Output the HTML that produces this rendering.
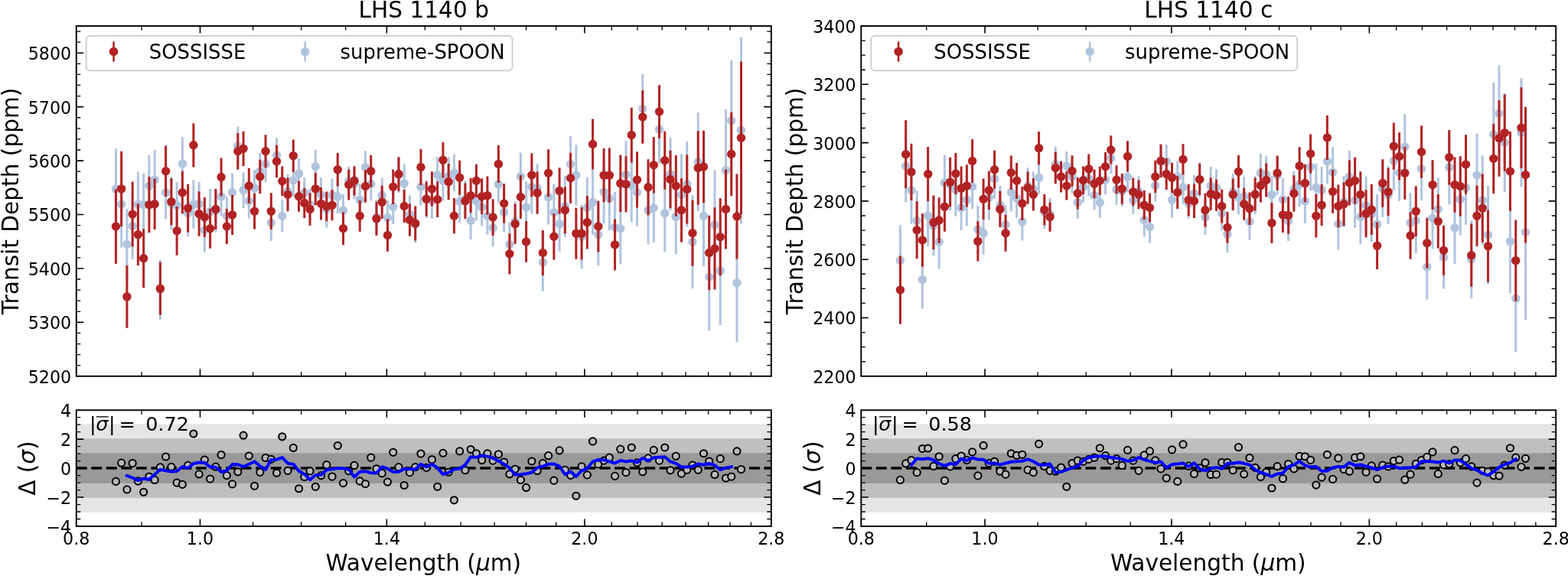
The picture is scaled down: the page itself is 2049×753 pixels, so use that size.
<!DOCTYPE html>
<html><head><meta charset="utf-8"><title>LHS 1140 b and c transmission spectra</title>
<style>html,body{margin:0;padding:0;background:#fff;overflow:hidden;}svg{display:block;}text{font-family:'DejaVu Sans', 'Liberation Sans', sans-serif;fill:#000;}</style>
</head><body>
<svg width="2049" height="753" viewBox="0 0 2049 753">
<rect width="2049" height="753" fill="#fff"/>
<rect x="99.75" y="554.38" width="908.05" height="115.45" fill="#e5e5e5"/>
<rect x="99.75" y="573.35" width="908.05" height="77.5" fill="#bfbfbf"/>
<rect x="99.75" y="592.33" width="908.05" height="39.55" fill="#999999"/>
<path d="M99.75 612.1H1007.8" stroke="#000" stroke-width="3.5" stroke-dasharray="13.9 5.64" stroke-dashoffset="0"/>
<g fill="#b9b9b9" stroke="#000" stroke-width="2.0"><circle cx="151.42" cy="629.38" r="4.6"/><circle cx="158.67" cy="605.22" r="4.6"/><circle cx="165.91" cy="639.92" r="4.6"/><circle cx="173.16" cy="605.51" r="4.6"/><circle cx="180.4" cy="628.94" r="4.6"/><circle cx="187.65" cy="643.29" r="4.6"/><circle cx="194.9" cy="623.08" r="4.6"/><circle cx="202.14" cy="627.47" r="4.6"/><circle cx="209.39" cy="610.93" r="4.6"/><circle cx="216.63" cy="597.02" r="4.6"/><circle cx="223.88" cy="610.34" r="4.6"/><circle cx="231.13" cy="631.13" r="4.6"/><circle cx="238.37" cy="633.33" r="4.6"/><circle cx="245.62" cy="608.44" r="4.6"/><circle cx="252.86" cy="567.01" r="4.6"/><circle cx="260.11" cy="619.86" r="4.6"/><circle cx="267.36" cy="601.12" r="4.6"/><circle cx="274.6" cy="626.01" r="4.6"/><circle cx="281.85" cy="610.2" r="4.6"/><circle cx="289.09" cy="594.53" r="4.6"/><circle cx="296.34" cy="621.62" r="4.6"/><circle cx="303.59" cy="632.89" r="4.6"/><circle cx="310.83" cy="616.79" r="4.6"/><circle cx="318.08" cy="569.2" r="4.6"/><circle cx="325.32" cy="596" r="4.6"/><circle cx="332.57" cy="635.23" r="4.6"/><circle cx="339.82" cy="617.37" r="4.6"/><circle cx="347.06" cy="598.48" r="4.6"/><circle cx="354.31" cy="600.39" r="4.6"/><circle cx="361.55" cy="618.25" r="4.6"/><circle cx="368.8" cy="570.81" r="4.6"/><circle cx="376.05" cy="615.32" r="4.6"/><circle cx="383.29" cy="585.45" r="4.6"/><circle cx="390.54" cy="638.75" r="4.6"/><circle cx="397.78" cy="623.52" r="4.6"/><circle cx="405.03" cy="615.76" r="4.6"/><circle cx="412.28" cy="636.26" r="4.6"/><circle cx="419.52" cy="621.62" r="4.6"/><circle cx="426.77" cy="607.71" r="4.6"/><circle cx="434.01" cy="623.08" r="4.6"/><circle cx="441.26" cy="582.53" r="4.6"/><circle cx="448.51" cy="631.57" r="4.6"/><circle cx="455.75" cy="615.76" r="4.6"/><circle cx="463" cy="608.44" r="4.6"/><circle cx="470.24" cy="628.94" r="4.6"/><circle cx="477.49" cy="632.6" r="4.6"/><circle cx="484.74" cy="598.19" r="4.6"/><circle cx="491.98" cy="612.83" r="4.6"/><circle cx="499.23" cy="618.69" r="4.6"/><circle cx="506.47" cy="630.11" r="4.6"/><circle cx="513.72" cy="591.31" r="4.6"/><circle cx="520.97" cy="610.64" r="4.6"/><circle cx="528.21" cy="634.5" r="4.6"/><circle cx="535.46" cy="617.66" r="4.6"/><circle cx="542.7" cy="610.64" r="4.6"/><circle cx="549.95" cy="593.07" r="4.6"/><circle cx="557.2" cy="611.37" r="4.6"/><circle cx="564.44" cy="600.83" r="4.6"/><circle cx="571.69" cy="636.26" r="4.6"/><circle cx="578.93" cy="592.34" r="4.6"/><circle cx="586.18" cy="617.23" r="4.6"/><circle cx="593.43" cy="653.83" r="4.6"/><circle cx="600.67" cy="589.85" r="4.6"/><circle cx="607.92" cy="614.74" r="4.6"/><circle cx="615.16" cy="587.5" r="4.6"/><circle cx="622.41" cy="592.77" r="4.6"/><circle cx="629.66" cy="601.56" r="4.6"/><circle cx="636.9" cy="592.77" r="4.6"/><circle cx="644.15" cy="602.14" r="4.6"/><circle cx="651.39" cy="593.8" r="4.6"/><circle cx="658.64" cy="604.05" r="4.6"/><circle cx="665.89" cy="619.86" r="4.6"/><circle cx="673.13" cy="613.27" r="4.6"/><circle cx="680.38" cy="627.47" r="4.6"/><circle cx="687.62" cy="637.43" r="4.6"/><circle cx="694.87" cy="603.02" r="4.6"/><circle cx="702.12" cy="615.47" r="4.6"/><circle cx="709.36" cy="605.51" r="4.6"/><circle cx="716.61" cy="595.7" r="4.6"/><circle cx="723.85" cy="628.21" r="4.6"/><circle cx="731.1" cy="588.97" r="4.6"/><circle cx="738.35" cy="614.3" r="4.6"/><circle cx="745.59" cy="621.33" r="4.6"/><circle cx="752.84" cy="648.27" r="4.6"/><circle cx="760.08" cy="609.9" r="4.6"/><circle cx="767.33" cy="620.89" r="4.6"/><circle cx="774.58" cy="576.96" r="4.6"/><circle cx="781.82" cy="606.98" r="4.6"/><circle cx="789.07" cy="602.14" r="4.6"/><circle cx="796.31" cy="598.19" r="4.6"/><circle cx="803.56" cy="622.35" r="4.6"/><circle cx="810.81" cy="587.21" r="4.6"/><circle cx="818.05" cy="617.66" r="4.6"/><circle cx="825.3" cy="585.01" r="4.6"/><circle cx="832.54" cy="604.78" r="4.6"/><circle cx="839.79" cy="616.79" r="4.6"/><circle cx="847.04" cy="598.92" r="4.6"/><circle cx="854.28" cy="588.38" r="4.6"/><circle cx="861.53" cy="602.14" r="4.6"/><circle cx="868.77" cy="585.01" r="4.6"/><circle cx="876.02" cy="614.74" r="4.6"/><circle cx="883.27" cy="596.29" r="4.6"/><circle cx="890.51" cy="619.13" r="4.6"/><circle cx="897.76" cy="614.3" r="4.6"/><circle cx="905" cy="608" r="4.6"/><circle cx="912.25" cy="614.3" r="4.6"/><circle cx="919.5" cy="592.77" r="4.6"/><circle cx="926.74" cy="603.02" r="4.6"/><circle cx="933.99" cy="620.45" r="4.6"/><circle cx="941.23" cy="599.66" r="4.6"/><circle cx="948.48" cy="624.99" r="4.6"/><circle cx="955.73" cy="623.08" r="4.6"/><circle cx="962.97" cy="589.85" r="4.6"/><circle cx="968.5" cy="613.57" r="4.6"/></g>
<polyline points="165.91,621.79 173.16,624.58 180.4,628.15 187.65,625.66 194.9,626.74 202.14,620.36 209.39,613.77 216.63,615.38 223.88,616.55 231.13,616.05 238.37,610.05 245.62,611.95 252.86,605.95 260.11,604.49 267.36,604.84 274.6,610.34 281.85,610.7 289.09,617.05 296.34,615.2 303.59,607.01 310.83,607.3 318.08,610.02 325.32,606.92 332.57,603.26 339.82,609.49 347.06,613.95 354.31,601.06 361.55,600.65 368.8,598.05 376.05,605.72 383.29,606.77 390.54,615.76 397.78,619.95 405.03,627.18 412.28,620.97 419.52,620.89 426.77,614.24 434.01,613.3 441.26,612.13 448.51,612.28 455.75,613.45 463,623.46 470.24,616.79 477.49,616.2 484.74,618.25 491.98,618.48 499.23,610.23 506.47,612.72 513.72,617.05 520.97,616.84 528.21,612.95 535.46,613.3 542.7,613.45 549.95,606.71 557.2,610.43 564.44,606.77 571.69,611.6 578.93,620.1 586.18,617.9 593.43,613.59 600.67,612.63 607.92,607.74 615.16,597.28 622.41,597.87 629.66,595.35 636.9,596.61 644.15,598.87 651.39,602.53 658.64,606.63 665.89,611.69 673.13,620.42 680.38,620.21 687.62,619.33 694.87,617.78 702.12,611.43 709.36,609.58 716.61,606.77 723.85,606.54 731.1,609.7 738.35,620.21 745.59,616.55 752.84,622.94 760.08,615.47 767.33,612.6 774.58,603.37 781.82,601.03 789.07,601.33 796.31,603.37 803.56,605.51 810.81,602.09 818.05,603.4 825.3,602.29 832.54,604.63 839.79,598.78 847.04,602.2 854.28,598.25 861.53,597.84 868.77,597.31 876.02,603.46 883.27,605.89 890.51,610.49 897.76,610.4 905,609.7 912.25,606.48 919.5,607.71 926.74,606.04 933.99,608.18 941.23,614.24 948.48,611.6 955.73,610.23" fill="none" stroke="#0000ff" stroke-width="4.0" stroke-linejoin="round" stroke-linecap="square"/>
<text y="563.1" font-size="25.5"><tspan x="116.9">|</tspan><tspan x="125.3" font-style="italic">σ</tspan><tspan x="141.9">|</tspan><tspan x="155.53">=</tspan><tspan x="190.14">0.72</tspan></text>
<path d="M125.8 544.85H141.8" stroke="#000" stroke-width="1.3"/>
<path d="M99.75 650.05h9.5M1007.8 650.05h-9.5M99.75 612.1h9.5M1007.8 612.1h-9.5M99.75 574.15h9.5M1007.8 574.15h-9.5" stroke="#000" stroke-width="1.6"/><path d="M99.75 678.51h5.5M1007.8 678.51h-5.5M99.75 669.02h5.5M1007.8 669.02h-5.5M99.75 659.54h5.5M1007.8 659.54h-5.5M99.75 640.56h5.5M1007.8 640.56h-5.5M99.75 631.08h5.5M1007.8 631.08h-5.5M99.75 621.59h5.5M1007.8 621.59h-5.5M99.75 602.61h5.5M1007.8 602.61h-5.5M99.75 593.12h5.5M1007.8 593.12h-5.5M99.75 583.64h5.5M1007.8 583.64h-5.5M99.75 564.66h5.5M1007.8 564.66h-5.5M99.75 555.18h5.5M1007.8 555.18h-5.5M99.75 545.69h5.5M1007.8 545.69h-5.5" stroke="#000" stroke-width="1.3"/>
<path d="M261.49 688v-9.5M261.49 536.2v9.5M505.38 688v-9.5M505.38 536.2v9.5M763.91 688v-9.5M763.91 536.2v9.5" stroke="#000" stroke-width="1.6"/><path d="M185.12 688v-5.5M185.12 536.2v5.5M330.58 688v-5.5M330.58 536.2v5.5M393.65 688v-5.5M393.65 536.2v5.5M451.66 688v-5.5M451.66 536.2v5.5M555.39 688v-5.5M555.39 536.2v5.5M602.17 688v-5.5M602.17 536.2v5.5M646.11 688v-5.5M646.11 536.2v5.5M687.54 688v-5.5M687.54 536.2v5.5M726.73 688v-5.5M726.73 536.2v5.5M799.28 688v-5.5M799.28 536.2v5.5M833 688v-5.5M833 536.2v5.5M865.22 688v-5.5M865.22 536.2v5.5M896.07 688v-5.5M896.07 536.2v5.5M925.66 688v-5.5M925.66 536.2v5.5M954.08 688v-5.5M954.08 536.2v5.5M981.44 688v-5.5M981.44 536.2v5.5" stroke="#000" stroke-width="1.3"/>
<rect x="99.75" y="536.2" width="908.05" height="151.8" fill="none" stroke="#000" stroke-width="1.9"/>
<text x="93.15" y="696.9" font-size="22.2" text-anchor="end">−4</text>
<text x="93.15" y="658.95" font-size="22.2" text-anchor="end">−2</text>
<text x="93.15" y="621" font-size="22.2" text-anchor="end">0</text>
<text x="93.15" y="583.05" font-size="22.2" text-anchor="end">2</text>
<text x="93.15" y="545.1" font-size="22.2" text-anchor="end">4</text>
<text x="99.75" y="711.6" font-size="22.2" text-anchor="middle">0.8</text>
<text x="261.49" y="711.6" font-size="22.2" text-anchor="middle">1.0</text>
<text x="505.38" y="711.6" font-size="22.2" text-anchor="middle">1.4</text>
<text x="763.91" y="711.6" font-size="22.2" text-anchor="middle">2.0</text>
<text x="1007.8" y="711.6" font-size="22.2" text-anchor="middle">2.8</text>
<text x="553.27" y="745.9" font-size="29.6" text-anchor="middle">Wavelength (<tspan font-style="italic">μ</tspan>m)</text>
<text transform="translate(46.35 612.1) rotate(-90)" font-size="29.6" text-anchor="middle">Δ (<tspan font-style="italic">σ</tspan>)</text>
<path d="M151.42 194.35V299.48M158.67 210.92V323.48M165.91 272.88V365.79M173.16 252V339.07M180.4 224.75V309.7M187.65 226.53V308.82M194.9 203.11V282.75M202.14 196.26V273.77M209.39 339.42V417.99M216.63 217.04V286.6M223.88 231.26V300.28M231.13 237.88V298.94M238.37 179.36V248.39M245.62 248.08V309.14M252.86 235.16V298.87M260.11 237.55V295.96M267.36 271.33V329.73M274.6 247.03V306.49M281.85 247.86V303.6M289.09 231.65V282.09M296.34 257.13V307.57M303.59 226.81V276.19M310.83 165.47V215.91M318.08 225.45V272.17M325.32 240.27V285.39M332.57 221.96V269.75M339.82 199.7V248.55M347.06 190.56V238.34M354.31 267.33V315.12M361.55 180.14V226.33M368.8 261.52V302.93M376.05 227.73V272.86M383.29 214.05V257.59M390.54 206.66V247.54M397.78 231.95V272.3M405.03 246.38V288.85M412.28 195.75V239.81M419.52 232.37V276.97M426.77 250.68V297.4M434.01 233.86V276.34M441.26 235.36V278.89M448.51 254.09V296.03M455.75 217.64V256.4M463 220.38V260.2M470.24 239.92V282.39M477.49 197.3V240.3M484.74 218.65V262.18M491.98 261.52V306.65M499.23 232.94V278.07M506.47 262.11V307.24M513.72 247.78V292.91M520.97 206.23V251.89M528.21 214.15V265.12M535.46 255.79V304.64M542.7 269.82V317.6M549.95 219.89V268.74M557.2 235.54V284.91M564.44 239.23V285.95M571.69 205.22V251.94M578.93 209.65V262.74M586.18 204.95V255.38M593.43 201.48V250.33M600.67 235.95V291.16M607.92 236.28V284.07M615.16 263.67V313.05M622.41 237.58V288.02M629.66 246.47V295.32M636.9 257.82V306.67M644.15 273.43V322.28M651.39 216.23V265.6M658.64 251.65V303.15M665.89 290.3V348.7M673.13 262.99V316.08M680.38 199.43V262.08M687.62 237.03V304.99M694.87 209.3V279.38M702.12 214.28V277.99M709.36 304.83V380.75M716.61 221.76V293.44M723.85 240.52V314.85M731.1 256.96V328.64M738.35 229.86V309.5M745.59 177.82V251.62M752.84 189.21V268.85M760.08 267.48V351.37M767.33 231.76V311.4M774.58 221.83V306.78M781.82 266.35V347.05M789.07 208.72V292.61M796.31 217.62V300.98M803.56 250.86V343.77M810.81 252.61V345.52M818.05 184.37V271.97M825.3 193.9V290.53M832.54 207.09V295.76M839.79 96.82V187.07M847.04 230.11V319.31M854.28 226.02V317.34M861.53 124.06V214.32M868.77 229.16V328.98M876.02 179.81V275.37M883.27 234.26V332.48M890.51 201.58V307.76M897.76 185.03V296.52M905 255.2V377.31M912.25 147.18V276.2M919.5 216.38V348.05M926.74 292V432.17M933.99 222.37V365.72M941.23 283.19V424.94M948.48 142.92V302.2M955.73 78.88V236.57M962.97 292.3V447.34M968.5 48.58V291.75" stroke="#b0c4de" stroke-width="3.0"/>
<g fill="#b0c4de"><circle cx="151.42" cy="246.91" r="5.7"/><circle cx="158.67" cy="267.2" r="5.7"/><circle cx="165.91" cy="319.34" r="5.7"/><circle cx="173.16" cy="295.54" r="5.7"/><circle cx="180.4" cy="267.22" r="5.7"/><circle cx="187.65" cy="267.67" r="5.7"/><circle cx="194.9" cy="242.93" r="5.7"/><circle cx="202.14" cy="235.02" r="5.7"/><circle cx="209.39" cy="378.71" r="5.7"/><circle cx="216.63" cy="251.82" r="5.7"/><circle cx="223.88" cy="265.77" r="5.7"/><circle cx="231.13" cy="268.41" r="5.7"/><circle cx="238.37" cy="213.88" r="5.7"/><circle cx="245.62" cy="278.61" r="5.7"/><circle cx="252.86" cy="267.01" r="5.7"/><circle cx="260.11" cy="266.75" r="5.7"/><circle cx="267.36" cy="300.53" r="5.7"/><circle cx="274.6" cy="276.76" r="5.7"/><circle cx="281.85" cy="275.73" r="5.7"/><circle cx="289.09" cy="256.87" r="5.7"/><circle cx="296.34" cy="282.35" r="5.7"/><circle cx="303.59" cy="251.5" r="5.7"/><circle cx="310.83" cy="190.69" r="5.7"/><circle cx="318.08" cy="248.81" r="5.7"/><circle cx="325.32" cy="262.83" r="5.7"/><circle cx="332.57" cy="245.85" r="5.7"/><circle cx="339.82" cy="224.13" r="5.7"/><circle cx="347.06" cy="214.45" r="5.7"/><circle cx="354.31" cy="291.22" r="5.7"/><circle cx="361.55" cy="203.24" r="5.7"/><circle cx="368.8" cy="282.23" r="5.7"/><circle cx="376.05" cy="250.29" r="5.7"/><circle cx="383.29" cy="235.82" r="5.7"/><circle cx="390.54" cy="227.1" r="5.7"/><circle cx="397.78" cy="252.13" r="5.7"/><circle cx="405.03" cy="267.61" r="5.7"/><circle cx="412.28" cy="217.78" r="5.7"/><circle cx="419.52" cy="254.67" r="5.7"/><circle cx="426.77" cy="274.04" r="5.7"/><circle cx="434.01" cy="255.1" r="5.7"/><circle cx="441.26" cy="257.13" r="5.7"/><circle cx="448.51" cy="275.06" r="5.7"/><circle cx="455.75" cy="237.02" r="5.7"/><circle cx="463" cy="240.29" r="5.7"/><circle cx="470.24" cy="261.15" r="5.7"/><circle cx="477.49" cy="218.8" r="5.7"/><circle cx="484.74" cy="240.41" r="5.7"/><circle cx="491.98" cy="284.09" r="5.7"/><circle cx="499.23" cy="255.5" r="5.7"/><circle cx="506.47" cy="284.68" r="5.7"/><circle cx="513.72" cy="270.35" r="5.7"/><circle cx="520.97" cy="229.06" r="5.7"/><circle cx="528.21" cy="239.63" r="5.7"/><circle cx="535.46" cy="280.21" r="5.7"/><circle cx="542.7" cy="293.71" r="5.7"/><circle cx="549.95" cy="244.32" r="5.7"/><circle cx="557.2" cy="260.22" r="5.7"/><circle cx="564.44" cy="262.59" r="5.7"/><circle cx="571.69" cy="228.58" r="5.7"/><circle cx="578.93" cy="236.2" r="5.7"/><circle cx="586.18" cy="230.16" r="5.7"/><circle cx="593.43" cy="225.91" r="5.7"/><circle cx="600.67" cy="263.56" r="5.7"/><circle cx="607.92" cy="260.18" r="5.7"/><circle cx="615.16" cy="288.36" r="5.7"/><circle cx="622.41" cy="262.8" r="5.7"/><circle cx="629.66" cy="270.9" r="5.7"/><circle cx="636.9" cy="282.24" r="5.7"/><circle cx="644.15" cy="297.85" r="5.7"/><circle cx="651.39" cy="240.92" r="5.7"/><circle cx="658.64" cy="277.4" r="5.7"/><circle cx="665.89" cy="319.5" r="5.7"/><circle cx="673.13" cy="289.54" r="5.7"/><circle cx="680.38" cy="230.75" r="5.7"/><circle cx="687.62" cy="271.01" r="5.7"/><circle cx="694.87" cy="244.34" r="5.7"/><circle cx="702.12" cy="246.14" r="5.7"/><circle cx="709.36" cy="342.79" r="5.7"/><circle cx="716.61" cy="257.6" r="5.7"/><circle cx="723.85" cy="277.68" r="5.7"/><circle cx="731.1" cy="292.8" r="5.7"/><circle cx="738.35" cy="269.68" r="5.7"/><circle cx="745.59" cy="214.72" r="5.7"/><circle cx="752.84" cy="229.03" r="5.7"/><circle cx="760.08" cy="309.42" r="5.7"/><circle cx="767.33" cy="271.58" r="5.7"/><circle cx="774.58" cy="264.3" r="5.7"/><circle cx="781.82" cy="306.7" r="5.7"/><circle cx="789.07" cy="250.67" r="5.7"/><circle cx="796.31" cy="259.3" r="5.7"/><circle cx="803.56" cy="297.31" r="5.7"/><circle cx="810.81" cy="299.06" r="5.7"/><circle cx="818.05" cy="228.17" r="5.7"/><circle cx="825.3" cy="242.21" r="5.7"/><circle cx="832.54" cy="251.43" r="5.7"/><circle cx="839.79" cy="141.94" r="5.7"/><circle cx="847.04" cy="274.71" r="5.7"/><circle cx="854.28" cy="271.68" r="5.7"/><circle cx="861.53" cy="169.19" r="5.7"/><circle cx="868.77" cy="279.07" r="5.7"/><circle cx="876.02" cy="227.59" r="5.7"/><circle cx="883.27" cy="283.37" r="5.7"/><circle cx="890.51" cy="254.67" r="5.7"/><circle cx="897.76" cy="240.77" r="5.7"/><circle cx="905" cy="316.26" r="5.7"/><circle cx="912.25" cy="211.69" r="5.7"/><circle cx="919.5" cy="282.21" r="5.7"/><circle cx="926.74" cy="362.09" r="5.7"/><circle cx="933.99" cy="294.05" r="5.7"/><circle cx="941.23" cy="354.06" r="5.7"/><circle cx="948.48" cy="222.56" r="5.7"/><circle cx="955.73" cy="157.72" r="5.7"/><circle cx="962.97" cy="369.82" r="5.7"/><circle cx="968.5" cy="170.16" r="5.7"/></g>
<path d="M151.42 247.16V344.85M158.67 197.78V296M165.91 346.97V428.74M173.16 237.6V322.55M180.4 266.27V346.97M187.65 299.19V376.17M194.9 230.97V304.23M202.14 233.62V299.99M209.39 342.73V411.75M216.63 190.62V256.98M223.88 233.09V294.15M231.13 269.99V333.7M238.37 223.8V279.55M245.62 240.79V303.44M252.86 161.15V218.49M260.11 250.35V308.75M267.36 258.04V310.07M274.6 272.64V324.67M281.85 246.89V299.99M289.09 206.54V256.45M296.34 272.91V319.1M303.59 254.86V306.89M310.83 173.89V221.68M318.08 171.77V216.9M325.32 219.82V266.01M332.57 252.73V299.46M339.82 208.67V253.27M347.06 176.28V219.29M354.31 252.2V299.99M361.55 189.82V232.29M368.8 217.43V256.19M376.05 232.29V276.36M383.29 182.39V224.86M390.54 236.81V276.63M397.78 245.83V285.12M405.03 252.2V294.68M412.28 225.66V268.13M419.52 245.04V287.51M426.77 250.61V289.37M434.01 247.96V288.31M441.26 199.91V243.44M448.51 277.16V320.16M455.75 221.68V261.49M463 217.16V255.39M470.24 261.76V302.64M477.49 222.21V264.68M484.74 203.09V244.5M491.98 263.88V307.95M499.23 242.65V285.65M506.47 286.18V328.66M513.72 221.41V267.07M520.97 205.22V249.81M528.21 247.96V290.96M535.46 266.27V308.75M542.7 269.46V314.59M549.95 194.86V242.12M557.2 237.6V282.73M564.44 224.33V269.46M571.69 237.34V284.06M578.93 186.1V232.29M586.18 213.98V261.23M593.43 259.11V305.3M600.67 209.73V254.86M607.92 239.46V286.18M615.16 233.09V278.22M622.41 214.77V257.78M629.66 233.36V280.08M636.9 230.44V280.87M644.15 260.17V307.95M651.39 190.08V238.93M658.64 240.26V291.76M665.89 305.3V358.39M673.13 266.54V319.1M680.38 229.11V285.92M687.62 289.1V342.73M694.87 200.17V257.51M702.12 224.6V279.81M709.36 301.05V359.98M716.61 195.13V257.25M723.85 279.02V339.54M731.1 219.29V279.81M738.35 244.24V305.3M745.59 199.64V266.01M752.84 271.85V338.74M760.08 271.05V339.54M767.33 255.92V325.47M774.58 155.57V221.41M781.82 262.56V329.45M789.07 194.07V264.15M796.31 193.54V264.68M803.56 286.45V353.34M810.81 202.56V276.89M818.05 204.15V277.42M825.3 140.71V212.38M832.54 198.31V271.58M839.79 118.14V187.7M847.04 208.14V281.4M854.28 179.2V252.47M861.53 111.24V180.79M868.77 171.77V247.69M876.02 196.72V272.11M883.27 203.09V282.73M890.51 233.09V316.45M897.76 202.3V292.55M905 261.76V347.77M912.25 171.24V267.87M919.5 170.71V265.21M926.74 281.67V379.36M933.99 271.32V378.56M941.23 259.37V360.25M948.48 221.41V325.47M955.73 146.81V256.19M962.97 227.52V338.48M968.5 80.45V280.08" stroke="#b22222" stroke-width="3.0"/>
<g fill="#b22222"><circle cx="151.42" cy="296" r="5.7"/><circle cx="158.67" cy="246.89" r="5.7"/><circle cx="165.91" cy="387.86" r="5.7"/><circle cx="173.16" cy="280.08" r="5.7"/><circle cx="180.4" cy="306.62" r="5.7"/><circle cx="187.65" cy="337.68" r="5.7"/><circle cx="194.9" cy="267.6" r="5.7"/><circle cx="202.14" cy="266.8" r="5.7"/><circle cx="209.39" cy="377.24" r="5.7"/><circle cx="216.63" cy="223.8" r="5.7"/><circle cx="223.88" cy="263.62" r="5.7"/><circle cx="231.13" cy="301.84" r="5.7"/><circle cx="238.37" cy="251.67" r="5.7"/><circle cx="245.62" cy="272.11" r="5.7"/><circle cx="252.86" cy="189.82" r="5.7"/><circle cx="260.11" cy="279.55" r="5.7"/><circle cx="267.36" cy="284.06" r="5.7"/><circle cx="274.6" cy="298.66" r="5.7"/><circle cx="281.85" cy="273.44" r="5.7"/><circle cx="289.09" cy="231.5" r="5.7"/><circle cx="296.34" cy="296" r="5.7"/><circle cx="303.59" cy="280.87" r="5.7"/><circle cx="310.83" cy="197.78" r="5.7"/><circle cx="318.08" cy="194.33" r="5.7"/><circle cx="325.32" cy="242.91" r="5.7"/><circle cx="332.57" cy="276.1" r="5.7"/><circle cx="339.82" cy="230.97" r="5.7"/><circle cx="347.06" cy="197.78" r="5.7"/><circle cx="354.31" cy="276.1" r="5.7"/><circle cx="361.55" cy="211.06" r="5.7"/><circle cx="368.8" cy="236.81" r="5.7"/><circle cx="376.05" cy="254.33" r="5.7"/><circle cx="383.29" cy="203.62" r="5.7"/><circle cx="390.54" cy="256.72" r="5.7"/><circle cx="397.78" cy="265.48" r="5.7"/><circle cx="405.03" cy="273.44" r="5.7"/><circle cx="412.28" cy="246.89" r="5.7"/><circle cx="419.52" cy="266.27" r="5.7"/><circle cx="426.77" cy="269.99" r="5.7"/><circle cx="434.01" cy="268.13" r="5.7"/><circle cx="441.26" cy="221.68" r="5.7"/><circle cx="448.51" cy="298.66" r="5.7"/><circle cx="455.75" cy="241.58" r="5.7"/><circle cx="463" cy="236.28" r="5.7"/><circle cx="470.24" cy="282.2" r="5.7"/><circle cx="477.49" cy="243.44" r="5.7"/><circle cx="484.74" cy="223.8" r="5.7"/><circle cx="491.98" cy="285.92" r="5.7"/><circle cx="499.23" cy="264.15" r="5.7"/><circle cx="506.47" cy="307.42" r="5.7"/><circle cx="513.72" cy="244.24" r="5.7"/><circle cx="520.97" cy="227.52" r="5.7"/><circle cx="528.21" cy="269.46" r="5.7"/><circle cx="535.46" cy="287.51" r="5.7"/><circle cx="542.7" cy="292.02" r="5.7"/><circle cx="549.95" cy="218.49" r="5.7"/><circle cx="557.2" cy="260.17" r="5.7"/><circle cx="564.44" cy="246.89" r="5.7"/><circle cx="571.69" cy="260.7" r="5.7"/><circle cx="578.93" cy="209.2" r="5.7"/><circle cx="586.18" cy="237.6" r="5.7"/><circle cx="593.43" cy="282.2" r="5.7"/><circle cx="600.67" cy="232.29" r="5.7"/><circle cx="607.92" cy="262.82" r="5.7"/><circle cx="615.16" cy="255.65" r="5.7"/><circle cx="622.41" cy="236.28" r="5.7"/><circle cx="629.66" cy="256.72" r="5.7"/><circle cx="636.9" cy="255.65" r="5.7"/><circle cx="644.15" cy="284.06" r="5.7"/><circle cx="651.39" cy="214.51" r="5.7"/><circle cx="658.64" cy="266.01" r="5.7"/><circle cx="665.89" cy="331.84" r="5.7"/><circle cx="673.13" cy="292.82" r="5.7"/><circle cx="680.38" cy="257.51" r="5.7"/><circle cx="687.62" cy="315.91" r="5.7"/><circle cx="694.87" cy="228.84" r="5.7"/><circle cx="702.12" cy="252.2" r="5.7"/><circle cx="709.36" cy="330.51" r="5.7"/><circle cx="716.61" cy="226.19" r="5.7"/><circle cx="723.85" cy="309.28" r="5.7"/><circle cx="731.1" cy="249.55" r="5.7"/><circle cx="738.35" cy="274.77" r="5.7"/><circle cx="745.59" cy="232.82" r="5.7"/><circle cx="752.84" cy="305.3" r="5.7"/><circle cx="760.08" cy="305.3" r="5.7"/><circle cx="767.33" cy="290.7" r="5.7"/><circle cx="774.58" cy="188.49" r="5.7"/><circle cx="781.82" cy="296" r="5.7"/><circle cx="789.07" cy="229.11" r="5.7"/><circle cx="796.31" cy="229.11" r="5.7"/><circle cx="803.56" cy="319.9" r="5.7"/><circle cx="810.81" cy="239.73" r="5.7"/><circle cx="818.05" cy="240.79" r="5.7"/><circle cx="825.3" cy="176.55" r="5.7"/><circle cx="832.54" cy="234.95" r="5.7"/><circle cx="839.79" cy="152.92" r="5.7"/><circle cx="847.04" cy="244.77" r="5.7"/><circle cx="854.28" cy="215.83" r="5.7"/><circle cx="861.53" cy="146.02" r="5.7"/><circle cx="868.77" cy="209.73" r="5.7"/><circle cx="876.02" cy="234.42" r="5.7"/><circle cx="883.27" cy="242.91" r="5.7"/><circle cx="890.51" cy="274.77" r="5.7"/><circle cx="897.76" cy="247.43" r="5.7"/><circle cx="905" cy="304.77" r="5.7"/><circle cx="912.25" cy="219.55" r="5.7"/><circle cx="919.5" cy="217.96" r="5.7"/><circle cx="926.74" cy="330.51" r="5.7"/><circle cx="933.99" cy="324.94" r="5.7"/><circle cx="941.23" cy="309.81" r="5.7"/><circle cx="948.48" cy="273.44" r="5.7"/><circle cx="955.73" cy="201.5" r="5.7"/><circle cx="962.97" cy="283" r="5.7"/><circle cx="968.5" cy="180.26" r="5.7"/></g>
<path d="M99.75 421.37h9.5M1007.8 421.37h-9.5M99.75 350.94h9.5M1007.8 350.94h-9.5M99.75 280.51h9.5M1007.8 280.51h-9.5M99.75 210.08h9.5M1007.8 210.08h-9.5M99.75 139.65h9.5M1007.8 139.65h-9.5M99.75 69.22h9.5M1007.8 69.22h-9.5" stroke="#000" stroke-width="1.6"/><path d="M99.75 477.71h5.5M1007.8 477.71h-5.5M99.75 463.63h5.5M1007.8 463.63h-5.5M99.75 449.54h5.5M1007.8 449.54h-5.5M99.75 435.46h5.5M1007.8 435.46h-5.5M99.75 407.28h5.5M1007.8 407.28h-5.5M99.75 393.2h5.5M1007.8 393.2h-5.5M99.75 379.11h5.5M1007.8 379.11h-5.5M99.75 365.02h5.5M1007.8 365.02h-5.5M99.75 336.85h5.5M1007.8 336.85h-5.5M99.75 322.77h5.5M1007.8 322.77h-5.5M99.75 308.68h5.5M1007.8 308.68h-5.5M99.75 294.59h5.5M1007.8 294.59h-5.5M99.75 266.42h5.5M1007.8 266.42h-5.5M99.75 252.34h5.5M1007.8 252.34h-5.5M99.75 238.25h5.5M1007.8 238.25h-5.5M99.75 224.16h5.5M1007.8 224.16h-5.5M99.75 195.99h5.5M1007.8 195.99h-5.5M99.75 181.9h5.5M1007.8 181.9h-5.5M99.75 167.82h5.5M1007.8 167.82h-5.5M99.75 153.73h5.5M1007.8 153.73h-5.5M99.75 125.56h5.5M1007.8 125.56h-5.5M99.75 111.47h5.5M1007.8 111.47h-5.5M99.75 97.39h5.5M1007.8 97.39h-5.5M99.75 83.3h5.5M1007.8 83.3h-5.5M99.75 55.13h5.5M1007.8 55.13h-5.5M99.75 41.04h5.5M1007.8 41.04h-5.5" stroke="#000" stroke-width="1.3"/>
<path d="M261.49 491.8v-9.5M261.49 34v9.5M505.38 491.8v-9.5M505.38 34v9.5M763.91 491.8v-9.5M763.91 34v9.5" stroke="#000" stroke-width="1.6"/><path d="M185.12 491.8v-5.5M185.12 34v5.5M330.58 491.8v-5.5M330.58 34v5.5M393.65 491.8v-5.5M393.65 34v5.5M451.66 491.8v-5.5M451.66 34v5.5M555.39 491.8v-5.5M555.39 34v5.5M602.17 491.8v-5.5M602.17 34v5.5M646.11 491.8v-5.5M646.11 34v5.5M687.54 491.8v-5.5M687.54 34v5.5M726.73 491.8v-5.5M726.73 34v5.5M799.28 491.8v-5.5M799.28 34v5.5M833 491.8v-5.5M833 34v5.5M865.22 491.8v-5.5M865.22 34v5.5M896.07 491.8v-5.5M896.07 34v5.5M925.66 491.8v-5.5M925.66 34v5.5M954.08 491.8v-5.5M954.08 34v5.5M981.44 491.8v-5.5M981.44 34v5.5" stroke="#000" stroke-width="1.3"/>
<rect x="112.75" y="46.8" width="556.8" height="45.5" rx="5" fill="#fff" fill-opacity="0.8" stroke="#cccccc" stroke-width="1.8"/>
<path d="M148.55 54.3V80.6" stroke="#b22222" stroke-width="2.6"/><circle cx="148.55" cy="67.4" r="5.7" fill="#b22222"/>
<text x="194.75" y="76.7" font-size="25.9">SOSSISSE</text>
<path d="M398.65 54.3V80.6" stroke="#b0c4de" stroke-width="2.6"/><circle cx="398.65" cy="67.4" r="5.7" fill="#b0c4de"/>
<text x="444.55" y="76.7" font-size="25.9">supreme-SPOON</text>
<rect x="99.75" y="34" width="908.05" height="457.8" fill="none" stroke="#000" stroke-width="1.9"/>
<text x="93.15" y="500.7" font-size="22.2" text-anchor="end">5200</text>
<text x="93.15" y="430.27" font-size="22.2" text-anchor="end">5300</text>
<text x="93.15" y="359.84" font-size="22.2" text-anchor="end">5400</text>
<text x="93.15" y="289.41" font-size="22.2" text-anchor="end">5500</text>
<text x="93.15" y="218.98" font-size="22.2" text-anchor="end">5600</text>
<text x="93.15" y="148.55" font-size="22.2" text-anchor="end">5700</text>
<text x="93.15" y="78.12" font-size="22.2" text-anchor="end">5800</text>
<text x="553.77" y="22.8" font-size="29.6" text-anchor="middle">LHS 1140 b</text>
<text transform="translate(23.65 262.9) rotate(-90)" font-size="29.6" text-anchor="middle">Transit Depth (ppm)</text>
<rect x="1125.3" y="554.38" width="907.9" height="115.45" fill="#e5e5e5"/>
<rect x="1125.3" y="573.35" width="907.9" height="77.5" fill="#bfbfbf"/>
<rect x="1125.3" y="592.33" width="907.9" height="39.55" fill="#999999"/>
<path d="M1125.3 612.1H2033.2" stroke="#000" stroke-width="3.5" stroke-dasharray="13.9 5.64" stroke-dashoffset="0"/>
<g fill="#b9b9b9" stroke="#000" stroke-width="2.0"><circle cx="1176.42" cy="627.47" r="4.6"/><circle cx="1183.67" cy="605.95" r="4.6"/><circle cx="1190.91" cy="601.56" r="4.6"/><circle cx="1198.16" cy="617.66" r="4.6"/><circle cx="1205.4" cy="586.48" r="4.6"/><circle cx="1212.65" cy="586.04" r="4.6"/><circle cx="1219.9" cy="609.47" r="4.6"/><circle cx="1227.14" cy="596.73" r="4.6"/><circle cx="1234.39" cy="628.21" r="4.6"/><circle cx="1241.63" cy="609.9" r="4.6"/><circle cx="1248.88" cy="599.66" r="4.6"/><circle cx="1256.13" cy="596" r="4.6"/><circle cx="1263.37" cy="601.56" r="4.6"/><circle cx="1270.62" cy="590.87" r="4.6"/><circle cx="1277.86" cy="621.91" r="4.6"/><circle cx="1285.11" cy="582.38" r="4.6"/><circle cx="1292.36" cy="605.51" r="4.6"/><circle cx="1299.6" cy="603.32" r="4.6"/><circle cx="1306.85" cy="616.2" r="4.6"/><circle cx="1314.09" cy="620.15" r="4.6"/><circle cx="1321.34" cy="592.77" r="4.6"/><circle cx="1328.59" cy="595.26" r="4.6"/><circle cx="1335.83" cy="594.24" r="4.6"/><circle cx="1343.08" cy="614.3" r="4.6"/><circle cx="1350.32" cy="617.66" r="4.6"/><circle cx="1357.57" cy="580.33" r="4.6"/><circle cx="1364.82" cy="609.47" r="4.6"/><circle cx="1372.06" cy="615.32" r="4.6"/><circle cx="1379.31" cy="616.2" r="4.6"/><circle cx="1386.55" cy="611.08" r="4.6"/><circle cx="1393.8" cy="636.26" r="4.6"/><circle cx="1401.05" cy="605.51" r="4.6"/><circle cx="1408.29" cy="602.14" r="4.6"/><circle cx="1415.54" cy="603.32" r="4.6"/><circle cx="1422.78" cy="600.39" r="4.6"/><circle cx="1430.03" cy="598.19" r="4.6"/><circle cx="1437.28" cy="585.75" r="4.6"/><circle cx="1444.52" cy="595.7" r="4.6"/><circle cx="1451.77" cy="602.14" r="4.6"/><circle cx="1459.01" cy="599.66" r="4.6"/><circle cx="1466.26" cy="608.44" r="4.6"/><circle cx="1473.51" cy="588.38" r="4.6"/><circle cx="1480.75" cy="602.14" r="4.6"/><circle cx="1488" cy="615.32" r="4.6"/><circle cx="1495.24" cy="594.97" r="4.6"/><circle cx="1502.49" cy="589.7" r="4.6"/><circle cx="1509.74" cy="601.85" r="4.6"/><circle cx="1516.98" cy="612.83" r="4.6"/><circle cx="1524.23" cy="624.99" r="4.6"/><circle cx="1531.47" cy="587.94" r="4.6"/><circle cx="1538.72" cy="629.38" r="4.6"/><circle cx="1545.97" cy="580.92" r="4.6"/><circle cx="1553.21" cy="609.17" r="4.6"/><circle cx="1560.46" cy="619.42" r="4.6"/><circle cx="1567.7" cy="611.81" r="4.6"/><circle cx="1574.95" cy="604.78" r="4.6"/><circle cx="1582.2" cy="620.45" r="4.6"/><circle cx="1589.44" cy="620.15" r="4.6"/><circle cx="1596.69" cy="604.49" r="4.6"/><circle cx="1603.93" cy="604.49" r="4.6"/><circle cx="1611.18" cy="614.74" r="4.6"/><circle cx="1618.43" cy="584.72" r="4.6"/><circle cx="1625.67" cy="619.86" r="4.6"/><circle cx="1632.92" cy="598.48" r="4.6"/><circle cx="1640.16" cy="611.37" r="4.6"/><circle cx="1647.41" cy="623.52" r="4.6"/><circle cx="1654.66" cy="617.23" r="4.6"/><circle cx="1661.9" cy="638.02" r="4.6"/><circle cx="1669.15" cy="609.61" r="4.6"/><circle cx="1676.39" cy="625.72" r="4.6"/><circle cx="1683.64" cy="606.54" r="4.6"/><circle cx="1690.89" cy="612.83" r="4.6"/><circle cx="1698.13" cy="596.43" r="4.6"/><circle cx="1705.38" cy="596.73" r="4.6"/><circle cx="1712.62" cy="601.41" r="4.6"/><circle cx="1719.87" cy="634.06" r="4.6"/><circle cx="1727.12" cy="624.11" r="4.6"/><circle cx="1734.36" cy="594.24" r="4.6"/><circle cx="1741.61" cy="626.45" r="4.6"/><circle cx="1748.85" cy="598.92" r="4.6"/><circle cx="1756.1" cy="613.57" r="4.6"/><circle cx="1763.35" cy="616.2" r="4.6"/><circle cx="1770.59" cy="598.19" r="4.6"/><circle cx="1777.84" cy="596.73" r="4.6"/><circle cx="1785.08" cy="617.23" r="4.6"/><circle cx="1792.33" cy="608.88" r="4.6"/><circle cx="1799.58" cy="626.01" r="4.6"/><circle cx="1806.82" cy="608" r="4.6"/><circle cx="1814.07" cy="609.9" r="4.6"/><circle cx="1821.31" cy="602.58" r="4.6"/><circle cx="1828.56" cy="601.12" r="4.6"/><circle cx="1835.81" cy="627.18" r="4.6"/><circle cx="1843.05" cy="620.15" r="4.6"/><circle cx="1850.3" cy="606.24" r="4.6"/><circle cx="1857.54" cy="601.56" r="4.6"/><circle cx="1864.79" cy="597.46" r="4.6"/><circle cx="1872.04" cy="590.87" r="4.6"/><circle cx="1879.28" cy="619.42" r="4.6"/><circle cx="1886.53" cy="607.71" r="4.6"/><circle cx="1893.77" cy="606.54" r="4.6"/><circle cx="1901.02" cy="588.67" r="4.6"/><circle cx="1908.27" cy="604.78" r="4.6"/><circle cx="1915.51" cy="599.66" r="4.6"/><circle cx="1922.76" cy="609.9" r="4.6"/><circle cx="1930" cy="631.13" r="4.6"/><circle cx="1937.25" cy="615.32" r="4.6"/><circle cx="1944.5" cy="616.49" r="4.6"/><circle cx="1951.74" cy="621.62" r="4.6"/><circle cx="1958.99" cy="622.06" r="4.6"/><circle cx="1966.23" cy="608" r="4.6"/><circle cx="1973.48" cy="585.75" r="4.6"/><circle cx="1980.73" cy="598.19" r="4.6"/><circle cx="1987.97" cy="610.34" r="4.6"/><circle cx="1993.5" cy="599.36" r="4.6"/></g>
<polyline points="1190.91,607.83 1198.16,599.54 1205.4,600.24 1212.65,599.28 1219.9,601.38 1227.14,606.07 1234.39,608.79 1241.63,606.1 1248.88,607.06 1256.13,599.6 1263.37,602 1270.62,598.54 1277.86,600.45 1285.11,600.8 1292.36,605.86 1299.6,605.51 1306.85,607.59 1314.09,605.54 1321.34,603.73 1328.59,603.35 1335.83,602.85 1343.08,600.36 1350.32,603.2 1357.57,607.42 1364.82,607.8 1372.06,606.48 1379.31,617.66 1386.55,616.87 1393.8,614.24 1401.05,611.66 1408.29,609.52 1415.54,601.91 1422.78,597.96 1430.03,596.67 1437.28,596.43 1444.52,596.29 1451.77,598.34 1459.01,598.87 1466.26,600.15 1473.51,602.79 1480.75,601.85 1488,598.1 1495.24,600.8 1502.49,602.94 1509.74,604.87 1516.98,603.46 1524.23,611.4 1531.47,607.21 1538.72,606.48 1545.97,605.37 1553.21,610.14 1560.46,605.22 1567.7,613.13 1574.95,615.32 1582.2,612.34 1589.44,610.87 1596.69,612.86 1603.93,605.72 1611.18,605.66 1618.43,604.46 1625.67,605.83 1632.92,607.59 1640.16,614.09 1647.41,617.72 1654.66,619.95 1661.9,622.82 1669.15,619.42 1676.39,618.54 1683.64,610.23 1690.89,607.65 1698.13,602.79 1705.38,608.29 1712.62,610.55 1719.87,610.11 1727.12,616.05 1734.36,615.56 1741.61,611.46 1748.85,609.88 1756.1,610.67 1763.35,604.72 1770.59,608.38 1777.84,607.45 1785.08,609.41 1792.33,611.37 1799.58,614 1806.82,611.08 1814.07,609.52 1821.31,609.76 1828.56,612.19 1835.81,611.46 1843.05,611.25 1850.3,610.52 1857.54,603.26 1864.79,603.11 1872.04,603.4 1879.28,604.4 1886.53,602.64 1893.77,605.42 1901.02,601.47 1908.27,601.91 1915.51,606.83 1922.76,612.16 1930,614.5 1937.25,618.89 1944.5,621.33 1951.74,616.7 1958.99,610.78 1966.23,607.12 1973.48,604.87 1980.73,600.33" fill="none" stroke="#0000ff" stroke-width="4.0" stroke-linejoin="round" stroke-linecap="square"/>
<text y="563.1" font-size="25.5"><tspan x="1139.95">|</tspan><tspan x="1148.35" font-style="italic">σ</tspan><tspan x="1164.95">|</tspan><tspan x="1178.58">=</tspan><tspan x="1213.19">0.58</tspan></text>
<path d="M1148.85 544.85H1164.85" stroke="#000" stroke-width="1.3"/>
<path d="M1125.3 650.05h9.5M2033.2 650.05h-9.5M1125.3 612.1h9.5M2033.2 612.1h-9.5M1125.3 574.15h9.5M2033.2 574.15h-9.5" stroke="#000" stroke-width="1.6"/><path d="M1125.3 678.51h5.5M2033.2 678.51h-5.5M1125.3 669.02h5.5M2033.2 669.02h-5.5M1125.3 659.54h5.5M2033.2 659.54h-5.5M1125.3 640.56h5.5M2033.2 640.56h-5.5M1125.3 631.08h5.5M2033.2 631.08h-5.5M1125.3 621.59h5.5M2033.2 621.59h-5.5M1125.3 602.61h5.5M2033.2 602.61h-5.5M1125.3 593.12h5.5M2033.2 593.12h-5.5M1125.3 583.64h5.5M2033.2 583.64h-5.5M1125.3 564.66h5.5M2033.2 564.66h-5.5M1125.3 555.18h5.5M2033.2 555.18h-5.5M1125.3 545.69h5.5M2033.2 545.69h-5.5" stroke="#000" stroke-width="1.3"/>
<path d="M1287.02 688v-9.5M1287.02 536.2v9.5M1530.86 688v-9.5M1530.86 536.2v9.5M1789.35 688v-9.5M1789.35 536.2v9.5" stroke="#000" stroke-width="1.6"/><path d="M1210.66 688v-5.5M1210.66 536.2v5.5M1356.09 688v-5.5M1356.09 536.2v5.5M1419.15 688v-5.5M1419.15 536.2v5.5M1477.16 688v-5.5M1477.16 536.2v5.5M1580.86 688v-5.5M1580.86 536.2v5.5M1627.64 688v-5.5M1627.64 536.2v5.5M1671.57 688v-5.5M1671.57 536.2v5.5M1713 688v-5.5M1713 536.2v5.5M1752.18 688v-5.5M1752.18 536.2v5.5M1824.71 688v-5.5M1824.71 536.2v5.5M1858.43 688v-5.5M1858.43 536.2v5.5M1890.64 688v-5.5M1890.64 536.2v5.5M1921.48 688v-5.5M1921.48 536.2v5.5M1951.07 688v-5.5M1951.07 536.2v5.5M1979.49 688v-5.5M1979.49 536.2v5.5M2006.84 688v-5.5M2006.84 536.2v5.5" stroke="#000" stroke-width="1.3"/>
<rect x="1125.3" y="536.2" width="907.9" height="151.8" fill="none" stroke="#000" stroke-width="1.9"/>
<text x="1118.7" y="696.9" font-size="22.2" text-anchor="end">−4</text>
<text x="1118.7" y="658.95" font-size="22.2" text-anchor="end">−2</text>
<text x="1118.7" y="621" font-size="22.2" text-anchor="end">0</text>
<text x="1118.7" y="583.05" font-size="22.2" text-anchor="end">2</text>
<text x="1118.7" y="545.1" font-size="22.2" text-anchor="end">4</text>
<text x="1125.3" y="711.6" font-size="22.2" text-anchor="middle">0.8</text>
<text x="1287.02" y="711.6" font-size="22.2" text-anchor="middle">1.0</text>
<text x="1530.86" y="711.6" font-size="22.2" text-anchor="middle">1.4</text>
<text x="1789.35" y="711.6" font-size="22.2" text-anchor="middle">2.0</text>
<text x="2033.2" y="711.6" font-size="22.2" text-anchor="middle">2.8</text>
<text x="1578.75" y="745.9" font-size="29.6" text-anchor="middle">Wavelength (<tspan font-style="italic">μ</tspan>m)</text>
<text transform="translate(1071.9 612.1) rotate(-90)" font-size="29.6" text-anchor="middle">Δ (<tspan font-style="italic">σ</tspan>)</text>
<path d="M1176.42 294.23V386.61M1183.67 169.94V264.45M1190.91 204.94V292.54M1198.16 249.15V327.72M1205.4 327.62V403.54M1212.65 242.13V321.77M1219.9 255.81V334.39M1227.14 280.92V351.53M1234.39 202.52V275.26M1241.63 207.48V275.44M1248.88 212.61V282.69M1256.13 242.6V301M1263.37 227.45V295.4M1270.62 214.83V273.23M1277.86 268.94V331.06M1285.11 277.07V332.82M1292.36 229.16V287.56M1299.6 207.72V259.75M1306.85 242.7V293.13M1314.09 268.48V318.91M1321.34 226.06V276.5M1328.59 233.39V284.89M1335.83 265.17V314.55M1343.08 219.15V266.93M1350.32 224.33V269.46M1357.57 211.16V253.63M1364.82 255.41V298.94M1372.06 258.7V301.17M1379.31 191.6V237.79M1386.55 209.91V252.39M1393.8 197.93V236.16M1401.05 209.9V252.38M1408.29 243.15V285.63M1415.54 224.94V264.76M1422.78 211.24V256.37M1430.03 236.27V274.49M1437.28 244.75V284.57M1444.52 215.76V253.99M1451.77 186.33V227.22M1459.01 227.95V267.77M1466.26 229.99V269.81M1473.51 211.27V251.09M1480.75 242.78V279.94M1488 230.39V270.2M1495.24 265.53V309.59M1502.49 275.39V317.86M1509.74 221.37V263.84M1516.98 188.43V230.91M1524.23 189.07V233.14M1531.47 238.25V284.44M1538.72 210.16V251.05M1545.97 222.75V266.82M1553.21 246.76V285.52M1560.46 228.94V276.72M1567.7 212.28V257.41M1574.95 261V307.19M1582.2 217.98V267.88M1589.44 221.24V269.03M1596.69 257.05V301.12M1603.93 282.37V330.16M1611.18 227.05V274.84M1618.43 235.41V280.54M1625.67 231.23V281.66M1632.92 265.89V313.68M1640.16 229.74V280.18M1647.41 200.65V252.15M1654.66 204.19V251.97M1661.9 230.18V279.03M1669.15 204.37V254.81M1676.39 232.88V288.63M1683.64 263.02V315.05M1690.89 223.42V271.2M1698.13 211.95V270.35M1705.38 233.72V292.12M1712.62 187.23V249.35M1719.87 213.71V276.36M1727.12 217.88V278.93M1734.36 181.7V240.1M1741.61 192.36V258.2M1748.85 258.93V326.36M1756.1 230.49V296.86M1763.35 197.02V264.98M1770.59 226.25V297.92M1777.84 247.63V319.31M1785.08 230.82V306.75M1792.33 244.34V316.01M1799.58 254.36V331.87M1806.82 209.52V283.85M1814.07 217.09V293.02M1821.31 171.19V249.24M1828.56 188.52V262.85M1835.81 148.99V235M1843.05 251.9V330.47M1850.3 245.74V330.69M1857.54 179.69V261.98M1864.79 306.61V391.56M1872.04 244.81V325.51M1879.28 232.32V314.61M1886.53 295.33V377.62M1893.77 170.56V267.19M1901.02 250.75V344.73M1908.27 213.36V307.87M1915.51 196.92V294.08M1922.76 288.1V390.03M1930 174.66V283.5M1937.25 203.25V320.05M1944.5 242.67V371.69M1951.74 108.03V243.42M1958.99 85.09V211.45M1966.23 121.83V250.85M1973.48 247.64V383.56M1980.73 320.06V460.22M1987.97 102.49V244.25M1993.5 188.86V418.22" stroke="#b0c4de" stroke-width="3.0"/>
<g fill="#b0c4de"><circle cx="1176.42" cy="340.42" r="5.7"/><circle cx="1183.67" cy="217.2" r="5.7"/><circle cx="1190.91" cy="248.74" r="5.7"/><circle cx="1198.16" cy="288.44" r="5.7"/><circle cx="1205.4" cy="365.58" r="5.7"/><circle cx="1212.65" cy="281.95" r="5.7"/><circle cx="1219.9" cy="295.1" r="5.7"/><circle cx="1227.14" cy="316.23" r="5.7"/><circle cx="1234.39" cy="238.89" r="5.7"/><circle cx="1241.63" cy="241.46" r="5.7"/><circle cx="1248.88" cy="247.65" r="5.7"/><circle cx="1256.13" cy="271.8" r="5.7"/><circle cx="1263.37" cy="261.43" r="5.7"/><circle cx="1270.62" cy="244.03" r="5.7"/><circle cx="1277.86" cy="300" r="5.7"/><circle cx="1285.11" cy="304.94" r="5.7"/><circle cx="1292.36" cy="258.36" r="5.7"/><circle cx="1299.6" cy="233.74" r="5.7"/><circle cx="1306.85" cy="267.91" r="5.7"/><circle cx="1314.09" cy="293.69" r="5.7"/><circle cx="1321.34" cy="251.28" r="5.7"/><circle cx="1328.59" cy="259.14" r="5.7"/><circle cx="1335.83" cy="289.86" r="5.7"/><circle cx="1343.08" cy="243.04" r="5.7"/><circle cx="1350.32" cy="246.9" r="5.7"/><circle cx="1357.57" cy="232.4" r="5.7"/><circle cx="1364.82" cy="277.18" r="5.7"/><circle cx="1372.06" cy="279.94" r="5.7"/><circle cx="1379.31" cy="214.69" r="5.7"/><circle cx="1386.55" cy="231.15" r="5.7"/><circle cx="1393.8" cy="217.04" r="5.7"/><circle cx="1401.05" cy="231.14" r="5.7"/><circle cx="1408.29" cy="264.39" r="5.7"/><circle cx="1415.54" cy="244.85" r="5.7"/><circle cx="1422.78" cy="233.81" r="5.7"/><circle cx="1430.03" cy="255.38" r="5.7"/><circle cx="1437.28" cy="264.66" r="5.7"/><circle cx="1444.52" cy="234.88" r="5.7"/><circle cx="1451.77" cy="206.78" r="5.7"/><circle cx="1459.01" cy="247.86" r="5.7"/><circle cx="1466.26" cy="249.9" r="5.7"/><circle cx="1473.51" cy="231.18" r="5.7"/><circle cx="1480.75" cy="261.36" r="5.7"/><circle cx="1488" cy="250.29" r="5.7"/><circle cx="1495.24" cy="287.56" r="5.7"/><circle cx="1502.49" cy="296.62" r="5.7"/><circle cx="1509.74" cy="242.6" r="5.7"/><circle cx="1516.98" cy="209.67" r="5.7"/><circle cx="1524.23" cy="211.1" r="5.7"/><circle cx="1531.47" cy="261.35" r="5.7"/><circle cx="1538.72" cy="230.61" r="5.7"/><circle cx="1545.97" cy="244.79" r="5.7"/><circle cx="1553.21" cy="266.14" r="5.7"/><circle cx="1560.46" cy="252.83" r="5.7"/><circle cx="1567.7" cy="234.84" r="5.7"/><circle cx="1574.95" cy="284.09" r="5.7"/><circle cx="1582.2" cy="242.93" r="5.7"/><circle cx="1589.44" cy="245.13" r="5.7"/><circle cx="1596.69" cy="279.08" r="5.7"/><circle cx="1603.93" cy="306.26" r="5.7"/><circle cx="1611.18" cy="250.95" r="5.7"/><circle cx="1618.43" cy="257.97" r="5.7"/><circle cx="1625.67" cy="256.44" r="5.7"/><circle cx="1632.92" cy="289.78" r="5.7"/><circle cx="1640.16" cy="254.96" r="5.7"/><circle cx="1647.41" cy="226.4" r="5.7"/><circle cx="1654.66" cy="228.08" r="5.7"/><circle cx="1661.9" cy="254.61" r="5.7"/><circle cx="1669.15" cy="229.59" r="5.7"/><circle cx="1676.39" cy="260.76" r="5.7"/><circle cx="1683.64" cy="289.04" r="5.7"/><circle cx="1690.89" cy="247.31" r="5.7"/><circle cx="1698.13" cy="241.15" r="5.7"/><circle cx="1705.38" cy="262.92" r="5.7"/><circle cx="1712.62" cy="218.29" r="5.7"/><circle cx="1719.87" cy="245.04" r="5.7"/><circle cx="1727.12" cy="248.4" r="5.7"/><circle cx="1734.36" cy="210.9" r="5.7"/><circle cx="1741.61" cy="225.28" r="5.7"/><circle cx="1748.85" cy="292.64" r="5.7"/><circle cx="1756.1" cy="263.67" r="5.7"/><circle cx="1763.35" cy="231" r="5.7"/><circle cx="1770.59" cy="262.08" r="5.7"/><circle cx="1777.84" cy="283.47" r="5.7"/><circle cx="1785.08" cy="268.78" r="5.7"/><circle cx="1792.33" cy="280.18" r="5.7"/><circle cx="1799.58" cy="293.12" r="5.7"/><circle cx="1806.82" cy="246.69" r="5.7"/><circle cx="1814.07" cy="255.05" r="5.7"/><circle cx="1821.31" cy="210.22" r="5.7"/><circle cx="1828.56" cy="225.68" r="5.7"/><circle cx="1835.81" cy="191.99" r="5.7"/><circle cx="1843.05" cy="291.18" r="5.7"/><circle cx="1850.3" cy="288.22" r="5.7"/><circle cx="1857.54" cy="220.83" r="5.7"/><circle cx="1864.79" cy="349.09" r="5.7"/><circle cx="1872.04" cy="285.16" r="5.7"/><circle cx="1879.28" cy="273.47" r="5.7"/><circle cx="1886.53" cy="336.48" r="5.7"/><circle cx="1893.77" cy="218.88" r="5.7"/><circle cx="1901.02" cy="297.74" r="5.7"/><circle cx="1908.27" cy="260.61" r="5.7"/><circle cx="1915.51" cy="245.5" r="5.7"/><circle cx="1922.76" cy="339.06" r="5.7"/><circle cx="1930" cy="229.08" r="5.7"/><circle cx="1937.25" cy="261.65" r="5.7"/><circle cx="1944.5" cy="307.18" r="5.7"/><circle cx="1951.74" cy="175.73" r="5.7"/><circle cx="1958.99" cy="148.27" r="5.7"/><circle cx="1966.23" cy="186.34" r="5.7"/><circle cx="1973.48" cy="315.6" r="5.7"/><circle cx="1980.73" cy="390.14" r="5.7"/><circle cx="1987.97" cy="173.37" r="5.7"/><circle cx="1993.5" cy="303.54" r="5.7"/></g>
<path d="M1176.42 334.5V423.69M1183.67 157.17V246.36M1190.91 187.7V262.03M1198.16 263.35V338.21M1205.4 279.28V348.83M1212.65 191.94V263.09M1219.9 255.39V326M1227.14 258.31V317.77M1234.39 237.87V302.64M1241.63 205.75V270.52M1248.88 199.91V254.06M1256.13 217.43V274.77M1263.37 215.3V270.52M1270.62 182.12V238.93M1277.86 289.37V341.4M1285.11 233.62V286.71M1292.36 223.53V273.97M1299.6 196.72V246.63M1306.85 249.81V297.07M1314.09 280.87V328.66M1321.34 203.62V247.69M1328.59 212.91V259.64M1335.83 243.97V288.04M1343.08 224.6V266.54M1350.32 233.09V275.56M1357.57 172.03V215.57M1364.82 254.06V294.41M1372.06 264.41V302.64M1379.31 198.85V240.26M1386.55 211.06V250.88M1393.8 224.33V261.49M1401.05 203.36V243.71M1408.29 232.03V273.44M1415.54 217.43V254.06M1422.78 201.5V240.26M1430.03 221.41V259.11M1437.28 217.69V254.86M1444.52 199.11V236.28M1451.77 177.34V214.51M1459.01 216.37V253.53M1466.26 226.98V266.8M1473.51 184.24V224.6M1480.75 232.56V269.19M1488 235.48V273.17M1495.24 249.02V287.24M1502.49 252.73V290.43M1509.74 209.73V252.2M1516.98 188.76V232.29M1524.23 207.07V247.96M1531.47 212.65V251.94M1538.72 229.9V272.91M1545.97 188.23V228.58M1553.21 240.79V282.2M1560.46 240.52V285.12M1567.7 213.71V255.12M1574.95 252.73V296.8M1582.2 232.29V274.77M1589.44 234.68V276.1M1596.69 247.43V291.49M1603.93 276.89V317.77M1611.18 233.62V275.03M1618.43 203.09V245.57M1625.67 245.83V287.78M1632.92 251.41V293.88M1640.16 232.56V275.56M1647.41 220.35V264.41M1654.66 213.45V257.51M1661.9 264.95V318.04M1669.15 203.62V248.75M1676.39 257.78V303.97M1683.64 256.98V305.83M1690.89 229.37V276.63M1698.13 192.21V241.58M1705.38 214.77V264.15M1712.62 175.48V226.45M1719.87 253.8V310.61M1727.12 241.05V295.21M1734.36 151.06V208.93M1741.61 221.94V278.75M1748.85 241.58V297.33M1756.1 238.4V295.21M1763.35 209.46V268.4M1770.59 205.75V266.8M1777.84 224.33V284.32M1785.08 248.22V310.34M1792.33 241.05V306.89M1799.58 290.43V352.02M1806.82 208.14V270.79M1814.07 219.82V281.94M1821.31 160.62V221.68M1828.56 173.36V235.48M1835.81 191.68V260.7M1843.05 277.16V338.74M1850.3 243.18V309.01M1857.54 164.34V232.82M1864.79 284.86V350.69M1872.04 209.2V273.97M1879.28 254.06V324.67M1886.53 294.68V359.98M1893.77 169.91V241.58M1901.02 205.48V277.69M1908.27 204.15V282.73M1915.51 176.28V253.8M1922.76 292.55V374.85M1930 242.38V322.02M1937.25 227.52V316.71M1944.5 274.77V368.74M1951.74 161.68V253M1958.99 130.89V230.7M1966.23 123.45V223.8M1973.48 172.03V276.1M1980.73 287.51V393.7M1987.97 114.16V219.82M1993.5 139.65V317.51" stroke="#b22222" stroke-width="3.0"/>
<g fill="#b22222"><circle cx="1176.42" cy="379.09" r="5.7"/><circle cx="1183.67" cy="201.77" r="5.7"/><circle cx="1190.91" cy="224.86" r="5.7"/><circle cx="1198.16" cy="300.78" r="5.7"/><circle cx="1205.4" cy="314.06" r="5.7"/><circle cx="1212.65" cy="227.52" r="5.7"/><circle cx="1219.9" cy="290.7" r="5.7"/><circle cx="1227.14" cy="288.04" r="5.7"/><circle cx="1234.39" cy="270.25" r="5.7"/><circle cx="1241.63" cy="238.13" r="5.7"/><circle cx="1248.88" cy="226.98" r="5.7"/><circle cx="1256.13" cy="246.1" r="5.7"/><circle cx="1263.37" cy="242.91" r="5.7"/><circle cx="1270.62" cy="210.53" r="5.7"/><circle cx="1277.86" cy="315.38" r="5.7"/><circle cx="1285.11" cy="260.17" r="5.7"/><circle cx="1292.36" cy="248.75" r="5.7"/><circle cx="1299.6" cy="221.68" r="5.7"/><circle cx="1306.85" cy="273.44" r="5.7"/><circle cx="1314.09" cy="304.77" r="5.7"/><circle cx="1321.34" cy="225.66" r="5.7"/><circle cx="1328.59" cy="236.28" r="5.7"/><circle cx="1335.83" cy="266.01" r="5.7"/><circle cx="1343.08" cy="245.57" r="5.7"/><circle cx="1350.32" cy="254.33" r="5.7"/><circle cx="1357.57" cy="193.8" r="5.7"/><circle cx="1364.82" cy="274.24" r="5.7"/><circle cx="1372.06" cy="283.53" r="5.7"/><circle cx="1379.31" cy="219.55" r="5.7"/><circle cx="1386.55" cy="230.97" r="5.7"/><circle cx="1393.8" cy="242.91" r="5.7"/><circle cx="1401.05" cy="223.53" r="5.7"/><circle cx="1408.29" cy="252.73" r="5.7"/><circle cx="1415.54" cy="235.74" r="5.7"/><circle cx="1422.78" cy="220.88" r="5.7"/><circle cx="1430.03" cy="240.26" r="5.7"/><circle cx="1437.28" cy="236.28" r="5.7"/><circle cx="1444.52" cy="217.69" r="5.7"/><circle cx="1451.77" cy="195.93" r="5.7"/><circle cx="1459.01" cy="234.95" r="5.7"/><circle cx="1466.26" cy="246.89" r="5.7"/><circle cx="1473.51" cy="204.42" r="5.7"/><circle cx="1480.75" cy="250.88" r="5.7"/><circle cx="1488" cy="254.33" r="5.7"/><circle cx="1495.24" cy="268.13" r="5.7"/><circle cx="1502.49" cy="271.58" r="5.7"/><circle cx="1509.74" cy="230.97" r="5.7"/><circle cx="1516.98" cy="210.53" r="5.7"/><circle cx="1524.23" cy="227.52" r="5.7"/><circle cx="1531.47" cy="232.29" r="5.7"/><circle cx="1538.72" cy="251.41" r="5.7"/><circle cx="1545.97" cy="208.4" r="5.7"/><circle cx="1553.21" cy="261.49" r="5.7"/><circle cx="1560.46" cy="262.82" r="5.7"/><circle cx="1567.7" cy="234.42" r="5.7"/><circle cx="1574.95" cy="274.77" r="5.7"/><circle cx="1582.2" cy="253.53" r="5.7"/><circle cx="1589.44" cy="255.39" r="5.7"/><circle cx="1596.69" cy="269.46" r="5.7"/><circle cx="1603.93" cy="297.33" r="5.7"/><circle cx="1611.18" cy="254.33" r="5.7"/><circle cx="1618.43" cy="224.33" r="5.7"/><circle cx="1625.67" cy="266.8" r="5.7"/><circle cx="1632.92" cy="272.64" r="5.7"/><circle cx="1640.16" cy="254.06" r="5.7"/><circle cx="1647.41" cy="242.38" r="5.7"/><circle cx="1654.66" cy="235.48" r="5.7"/><circle cx="1661.9" cy="291.49" r="5.7"/><circle cx="1669.15" cy="226.19" r="5.7"/><circle cx="1676.39" cy="280.87" r="5.7"/><circle cx="1683.64" cy="281.4" r="5.7"/><circle cx="1690.89" cy="253" r="5.7"/><circle cx="1698.13" cy="216.9" r="5.7"/><circle cx="1705.38" cy="239.46" r="5.7"/><circle cx="1712.62" cy="200.97" r="5.7"/><circle cx="1719.87" cy="282.2" r="5.7"/><circle cx="1727.12" cy="268.13" r="5.7"/><circle cx="1734.36" cy="180" r="5.7"/><circle cx="1741.61" cy="250.35" r="5.7"/><circle cx="1748.85" cy="269.46" r="5.7"/><circle cx="1756.1" cy="266.8" r="5.7"/><circle cx="1763.35" cy="238.93" r="5.7"/><circle cx="1770.59" cy="236.28" r="5.7"/><circle cx="1777.84" cy="254.33" r="5.7"/><circle cx="1785.08" cy="279.28" r="5.7"/><circle cx="1792.33" cy="273.97" r="5.7"/><circle cx="1799.58" cy="321.22" r="5.7"/><circle cx="1806.82" cy="239.46" r="5.7"/><circle cx="1814.07" cy="250.88" r="5.7"/><circle cx="1821.31" cy="191.15" r="5.7"/><circle cx="1828.56" cy="204.42" r="5.7"/><circle cx="1835.81" cy="226.19" r="5.7"/><circle cx="1843.05" cy="307.95" r="5.7"/><circle cx="1850.3" cy="276.1" r="5.7"/><circle cx="1857.54" cy="198.58" r="5.7"/><circle cx="1864.79" cy="317.77" r="5.7"/><circle cx="1872.04" cy="241.58" r="5.7"/><circle cx="1879.28" cy="289.37" r="5.7"/><circle cx="1886.53" cy="327.33" r="5.7"/><circle cx="1893.77" cy="205.75" r="5.7"/><circle cx="1901.02" cy="241.58" r="5.7"/><circle cx="1908.27" cy="243.44" r="5.7"/><circle cx="1915.51" cy="215.04" r="5.7"/><circle cx="1922.76" cy="333.7" r="5.7"/><circle cx="1930" cy="282.2" r="5.7"/><circle cx="1937.25" cy="272.11" r="5.7"/><circle cx="1944.5" cy="321.75" r="5.7"/><circle cx="1951.74" cy="207.34" r="5.7"/><circle cx="1958.99" cy="180.79" r="5.7"/><circle cx="1966.23" cy="173.63" r="5.7"/><circle cx="1973.48" cy="224.06" r="5.7"/><circle cx="1980.73" cy="340.6" r="5.7"/><circle cx="1987.97" cy="166.99" r="5.7"/><circle cx="1993.5" cy="228.58" r="5.7"/></g>
<path d="M1125.3 415.5h9.5M2033.2 415.5h-9.5M1125.3 339.2h9.5M2033.2 339.2h-9.5M1125.3 262.9h9.5M2033.2 262.9h-9.5M1125.3 186.6h9.5M2033.2 186.6h-9.5M1125.3 110.3h9.5M2033.2 110.3h-9.5M1125.3 34h9.5M2033.2 34h-9.5" stroke="#000" stroke-width="1.6"/><path d="M1125.3 472.73h5.5M2033.2 472.73h-5.5M1125.3 453.65h5.5M2033.2 453.65h-5.5M1125.3 434.57h5.5M2033.2 434.57h-5.5M1125.3 396.43h5.5M2033.2 396.43h-5.5M1125.3 377.35h5.5M2033.2 377.35h-5.5M1125.3 358.27h5.5M2033.2 358.27h-5.5M1125.3 320.12h5.5M2033.2 320.12h-5.5M1125.3 301.05h5.5M2033.2 301.05h-5.5M1125.3 281.98h5.5M2033.2 281.98h-5.5M1125.3 243.83h5.5M2033.2 243.83h-5.5M1125.3 224.75h5.5M2033.2 224.75h-5.5M1125.3 205.68h5.5M2033.2 205.68h-5.5M1125.3 167.52h5.5M2033.2 167.52h-5.5M1125.3 148.45h5.5M2033.2 148.45h-5.5M1125.3 129.38h5.5M2033.2 129.38h-5.5M1125.3 91.23h5.5M2033.2 91.23h-5.5M1125.3 72.15h5.5M2033.2 72.15h-5.5M1125.3 53.07h5.5M2033.2 53.07h-5.5" stroke="#000" stroke-width="1.3"/>
<path d="M1287.02 491.8v-9.5M1287.02 34v9.5M1530.86 491.8v-9.5M1530.86 34v9.5M1789.35 491.8v-9.5M1789.35 34v9.5" stroke="#000" stroke-width="1.6"/><path d="M1210.66 491.8v-5.5M1210.66 34v5.5M1356.09 491.8v-5.5M1356.09 34v5.5M1419.15 491.8v-5.5M1419.15 34v5.5M1477.16 491.8v-5.5M1477.16 34v5.5M1580.86 491.8v-5.5M1580.86 34v5.5M1627.64 491.8v-5.5M1627.64 34v5.5M1671.57 491.8v-5.5M1671.57 34v5.5M1713 491.8v-5.5M1713 34v5.5M1752.18 491.8v-5.5M1752.18 34v5.5M1824.71 491.8v-5.5M1824.71 34v5.5M1858.43 491.8v-5.5M1858.43 34v5.5M1890.64 491.8v-5.5M1890.64 34v5.5M1921.48 491.8v-5.5M1921.48 34v5.5M1951.07 491.8v-5.5M1951.07 34v5.5M1979.49 491.8v-5.5M1979.49 34v5.5M2006.84 491.8v-5.5M2006.84 34v5.5" stroke="#000" stroke-width="1.3"/>
<rect x="1138.3" y="46.8" width="556.8" height="45.5" rx="5" fill="#fff" fill-opacity="0.8" stroke="#cccccc" stroke-width="1.8"/>
<path d="M1174.1 54.3V80.6" stroke="#b22222" stroke-width="2.6"/><circle cx="1174.1" cy="67.4" r="5.7" fill="#b22222"/>
<text x="1220.3" y="76.7" font-size="25.9">SOSSISSE</text>
<path d="M1424.2 54.3V80.6" stroke="#b0c4de" stroke-width="2.6"/><circle cx="1424.2" cy="67.4" r="5.7" fill="#b0c4de"/>
<text x="1470.1" y="76.7" font-size="25.9">supreme-SPOON</text>
<rect x="1125.3" y="34" width="907.9" height="457.8" fill="none" stroke="#000" stroke-width="1.9"/>
<text x="1118.7" y="500.7" font-size="22.2" text-anchor="end">2200</text>
<text x="1118.7" y="424.4" font-size="22.2" text-anchor="end">2400</text>
<text x="1118.7" y="348.1" font-size="22.2" text-anchor="end">2600</text>
<text x="1118.7" y="271.8" font-size="22.2" text-anchor="end">2800</text>
<text x="1118.7" y="195.5" font-size="22.2" text-anchor="end">3000</text>
<text x="1118.7" y="119.2" font-size="22.2" text-anchor="end">3200</text>
<text x="1118.7" y="42.9" font-size="22.2" text-anchor="end">3400</text>
<text x="1579.25" y="22.8" font-size="29.6" text-anchor="middle">LHS 1140 c</text>
<text transform="translate(1049.2 262.9) rotate(-90)" font-size="29.6" text-anchor="middle">Transit Depth (ppm)</text>
</svg></body></html>
